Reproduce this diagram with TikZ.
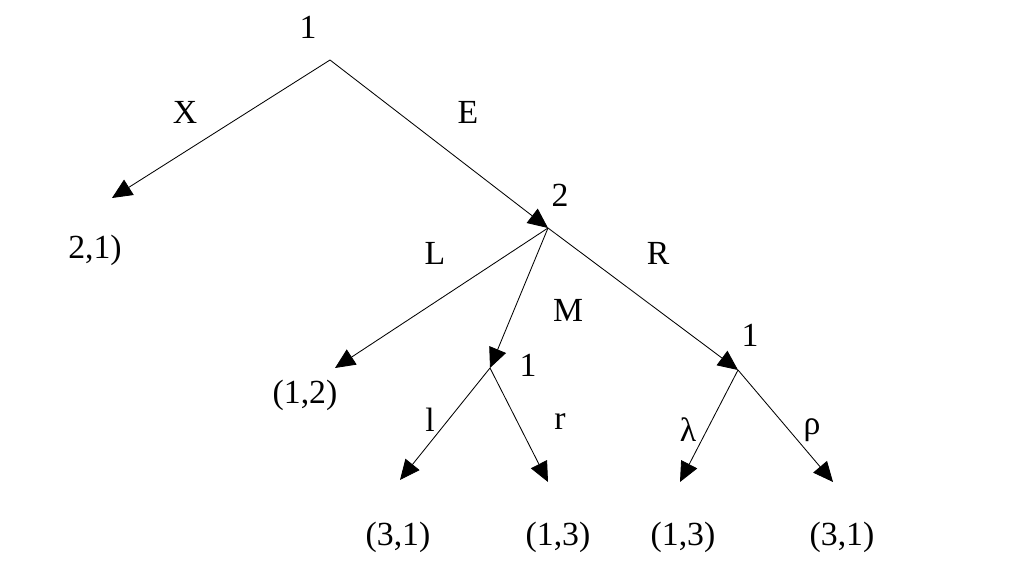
\documentclass[tikz,border=0pt]{standalone}
\usepackage{fontspec}
\setmainfont{Liberation Serif}
\usetikzlibrary{arrows.meta}
\begin{document}
\begin{tikzpicture}[x=0.025cm,y=-0.025cm,
  edge/.style={draw,line width=0.6pt,-{Triangle[length=0.5cm,width=0.45cm]}},
  lab/.style={font=\fontsize{24}{28}\selectfont,inner sep=0pt}]
\useasboundingbox (0,0) rectangle (1036,569);
\coordinate (r) at (330,60);
\coordinate (a) at (112,198);
\coordinate (n2) at (548,228);
\coordinate (b) at (335,368);
\coordinate (n3) at (490,368);
\coordinate (n4) at (738,370);
\coordinate (c) at (400,480);
\coordinate (d) at (548,482);
\coordinate (e) at (680,482);
\coordinate (f) at (833,482);
\draw[edge] (r) -- (a);
\draw[edge] (r) -- (n2);
\draw[edge] (n2) -- (b);
\draw[edge] (n2) -- (n3);
\draw[edge] (n2) -- (n4);
\draw[edge] (n3) -- (c);
\draw[edge] (n3) -- (d);
\draw[edge] (n4) -- (e);
\draw[edge] (n4) -- (f);
\node[lab] (t1) at (308,27) {1};
\node[lab] (tX) at (185,112) {X};
\node[lab] (tE) at (468,112) {E};
\node[lab] (ta) at (95,250) {2,1)};
\node[lab] (t2) at (560,195) {2};
\node[lab] (tL) at (435,253) {L};
\node[lab] (tR) at (658,253) {R};
\node[lab] (tM) at (568,310) {M};
\node[lab] (tb) at (305,395) {(1,2)};
\node[lab] (t3) at (528,365) {1};
\node[lab] (t4) at (750,335) {1};
\node[lab] (tl) at (430,420) {l};
\node[lab] (tr) at (560,422) {r};
\node[lab] (tla) at (688,430) {λ};
\node[lab] (trh) at (812,430) {ρ};
\node[lab] (tc) at (398,537) {(3,1)};
\node[lab] (td) at (558,537) {(1,3)};
\node[lab] (te) at (683,537) {(1,3)};
\node[lab] (tf) at (842,537) {(3,1)};
\end{tikzpicture}
\end{document}
